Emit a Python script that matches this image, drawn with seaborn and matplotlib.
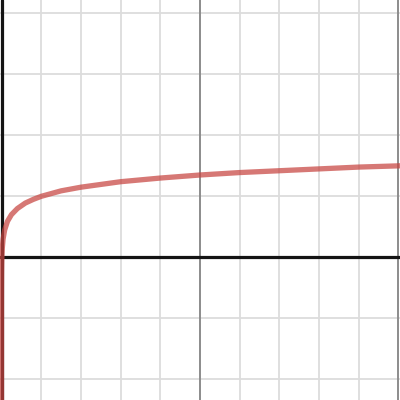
import matplotlib
matplotlib.use("Agg")
import matplotlib.pyplot as plt
import seaborn as sns
import pandas as pd

# points (x, y in grid units)
curve_x = [0.0, 0.0003, 0.001, 0.003, 0.006, 0.01, 0.02, 0.04, 0.08, 0.15, 0.25,
           0.4, 0.6, 0.8, 1.0, 1.5, 2.0, 3.0, 4.0, 5.0, 6.0, 7.0, 8.0, 9.0, 10.0, 10.2]
curve_y = [-2.5, -0.75, -0.5, -0.26, -0.11, 0.0, 0.15, 0.30, 0.45, 0.59, 0.70,
           0.80, 0.89, 0.95, 1.0, 1.09, 1.15, 1.24, 1.30, 1.35, 1.39, 1.42, 1.45, 1.48, 1.50, 1.505]

minor_x = [1, 2, 3, 4, 6, 7, 8, 9]
major_x = [5, 10]
grid_y = [-2, -1, 1, 2, 3, 4]

df = pd.DataFrame({"x": curve_x, "y": curve_y})

sns.set_style("white")
fig = plt.figure(figsize=(4, 4), dpi=100)
ax = fig.add_axes([0, 0, 1, 1])

for gx in minor_x:
    ax.axvline(gx, color="#dcdcdc", lw=1.3, zorder=0)
for gy in grid_y:
    ax.axhline(gy, color="#dcdcdc", lw=1.3, zorder=0)
for gx in major_x:
    ax.axvline(gx, color="#8c8c8c", lw=1.4, zorder=0)

ax.axhline(0, color="#141414", lw=2.3, zorder=1)
ax.axvline(0, color="#141414", lw=2.3, zorder=1)

sns.lineplot(data=df, x="x", y="y", sort=False, color="#c74440", alpha=0.72,
             lw=3.8, ax=ax, zorder=2)

ax.set_xlim(-0.038, 10.04)
ax.set_ylim(-2.34, 4.22)
ax.set_xticks([])
ax.set_yticks([])
ax.set_xlabel("")
ax.set_ylabel("")
for s in ax.spines.values():
    s.set_visible(False)

fig.savefig("out.png", dpi=100)
